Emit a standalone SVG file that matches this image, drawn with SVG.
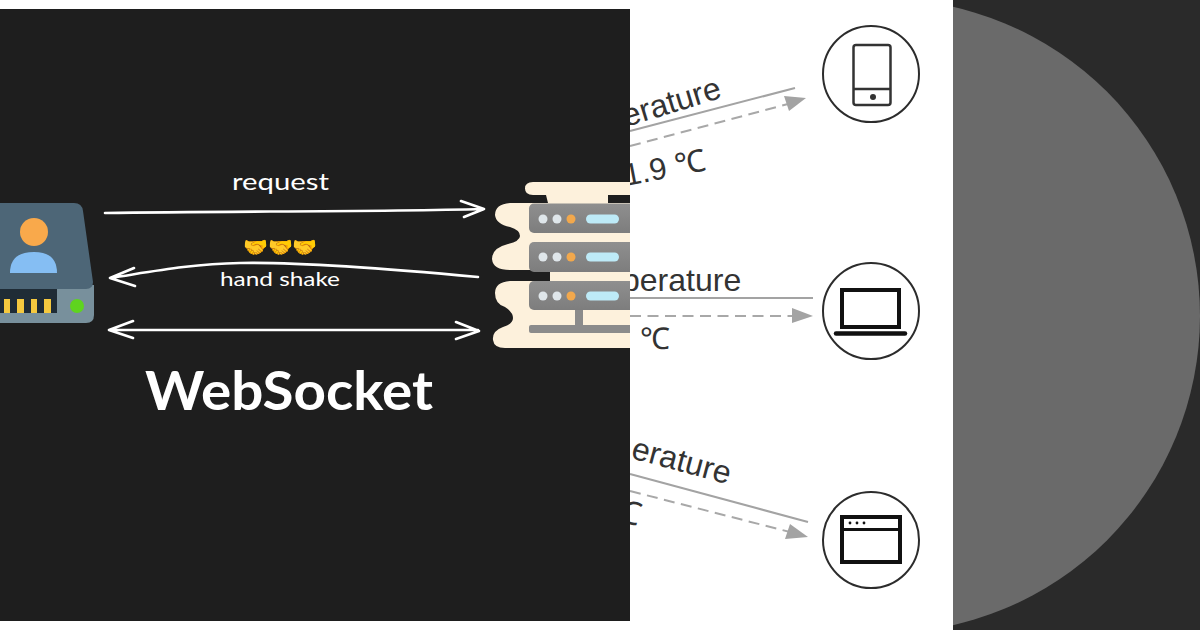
<svg xmlns="http://www.w3.org/2000/svg" width="1200" height="630" viewBox="0 0 1200 630">
<defs>
<style>
.hand{fill:none;stroke:#fff;stroke-width:2.6;stroke-linecap:round;stroke-linejoin:round}
.solid{fill:none;stroke:#a3a3a3;stroke-width:2}
.dash{fill:none;stroke:#a8a8a8;stroke-width:2;stroke-dasharray:11 6.5}
.ring{fill:#fff;stroke:#2c2c2c;stroke-width:2}
.lbl{font-family:"Liberation Sans",Arial,sans-serif;font-size:32px;fill:#333}
.hw{font-family:"Lato","Noto Sans",sans-serif;fill:#fff}
.tip{fill:#a3a3a3}
.dot1{fill:#dfe6ea}
.dot2{fill:#f2a84c}
.bar{fill:#bdeaf7}
.unit{fill:#8b8b8b}
</style>
<linearGradient id="srv" x1="0" y1="0" x2="0" y2="1"><stop offset="0" stop-color="#8f8f8f"/><stop offset="1" stop-color="#7d7d7d"/></linearGradient>
<clipPath id="rightclip"><rect x="953" width="247" height="630"/></clipPath>
<clipPath id="leftclip"><rect width="630" height="630"/></clipPath>
</defs>
<rect id="page" width="1200" height="630" fill="#fff"/>
<rect id="right-panel" x="953" width="247" height="630" fill="#2a2a2a"/>
<circle id="big-circle" cx="883" cy="316" r="317" fill="#6a6a6a" clip-path="url(#rightclip)"/>

<g id="labels-right">
<text class="lbl" transform="translate(626 127) rotate(-17)">erature</text>
<text class="lbl" transform="translate(626 186) rotate(-11)" style="font-size:31px">1.9 ℃</text>
<text class="lbl" x="622" y="291">perature</text>
<text class="lbl" x="640" y="349" style="font-size:30px">℃</text>
<text class="lbl" transform="translate(630 458) rotate(15)">erature</text>
<text class="lbl" transform="translate(607 518) rotate(15)">℃</text>
</g>
<g id="connectors-right">
<path class="solid" d="M630 131 L795 88"/>
<path class="dash" d="M630 146 L788 104"/>
<path class="tip" d="M806 98 L784 96 L789 111Z"/>
<path class="solid" d="M630 298 L813 298"/>
<path class="dash" d="M630 316 L794 316"/>
<path class="tip" d="M813 316 L792 308 L792 323Z"/>
<path class="solid" d="M630 474 L808 522"/>
<path class="dash" d="M630 491 L790 532"/>
<path class="tip" d="M808 537 L790 524 L785 539Z"/>
</g>
<g id="phone">
<circle class="ring" cx="871" cy="74" r="48"/>
<rect x="853.500" y="45" width="37" height="60" rx="2.500" fill="none" stroke="#333" stroke-width="2.500"/>
<path d="M853.500 89 H890.500" stroke="#333" stroke-width="2.500"/>
<circle cx="873" cy="97" r="3" fill="#333"/>
</g>
<g id="laptop">
<circle class="ring" cx="871" cy="311" r="48"/>
<rect x="842" y="290" width="57" height="37" fill="none" stroke="#111" stroke-width="4"/>
<path d="M836 333.500 H905" stroke="#111" stroke-width="4.500" stroke-linecap="round"/>
</g>
<g id="browser">
<circle class="ring" cx="871" cy="540" r="48"/>
<rect x="842" y="517" width="58" height="45" fill="none" stroke="#111" stroke-width="4"/>
<path d="M842 529.500 H900" stroke="#111" stroke-width="3"/>
<circle cx="850" cy="523" r="1.400" fill="#111"/><circle cx="857" cy="523" r="1.400" fill="#111"/><circle cx="864" cy="523" r="1.400" fill="#111"/>
</g>

<rect id="left-panel" y="9" width="630" height="612" fill="#1e1e1e"/>
<g id="client">
<path d="M0 289 V323 H86 Q94 323 94 315 V285 L0 285Z" fill="#78909c"/>
<path d="M0 203 H74 Q82 203 83 211 L93 282 Q93 289 86 289 H0Z" fill="#4d6677"/>
<rect x="0" y="289" width="57" height="24" fill="#1f2c36"/>
<circle cx="34" cy="232" r="14" fill="#f9a94b"/>
<path d="M10 273 Q10 252 34 252 Q57 252 57 273Z" fill="#85bef3"/>
<g fill="#f5c93f"><rect x="4" y="299" width="6" height="14"/><rect x="17" y="299" width="7" height="14"/><rect x="31" y="299" width="6" height="14"/><rect x="44" y="299" width="7" height="14"/></g>
<circle cx="77" cy="306" r="7" fill="#5fd41f"/>
</g>
<g id="server" clip-path="url(#leftclip)">
<path d="M630 182 H533 Q525 182 525 188.500 Q525 195 533 195 H546 L548 203 H510 Q495 204 495 215 Q496 224 510 227 Q520 230 520 236 Q520 241 508 244 Q492 248 492 259 Q493 270 510 270 H550 V281 H510 Q495 282 495 293 Q495 304 505 307 Q513 312 513 318 Q513 324 503 327 Q492 331 493 340 Q494 348 505 348 H630 V203 H608 V195 H630Z" fill="#fdf1dc"/>
<rect x="529" y="203.500" width="105" height="29.500" rx="5" fill="url(#srv)"/>
<rect x="529" y="242" width="105" height="30" rx="5" fill="url(#srv)"/>
<rect x="529" y="281" width="105" height="29" rx="5" fill="url(#srv)"/>
<g><circle class="dot1" cx="543" cy="219" r="4.500"/><circle class="dot1" cx="557" cy="219" r="4.500"/><circle class="dot2" cx="571" cy="219" r="4.500"/><rect class="bar" x="586" y="214.500" width="33" height="9" rx="4.500"/></g>
<g><circle class="dot1" cx="543" cy="257" r="4.500"/><circle class="dot1" cx="557" cy="257" r="4.500"/><circle class="dot2" cx="571" cy="257" r="4.500"/><rect class="bar" x="586" y="252.500" width="33" height="9" rx="4.500"/></g>
<g><circle class="dot1" cx="543" cy="296" r="4.500"/><circle class="dot1" cx="557" cy="296" r="4.500"/><circle class="dot2" cx="571" cy="296" r="4.500"/><rect class="bar" x="586" y="291.500" width="33" height="9" rx="4.500"/></g>
<rect class="unit" x="575" y="310" width="8" height="16"/>
<rect class="unit" x="529" y="325" width="105" height="8" rx="2"/>
</g>
<g id="connectors-left">
<path class="hand" d="M105 213 C230 211 370 212 484 209 M461 201 L484 209 L464 217"/>
<path class="hand" d="M478 277 C380 268 290 262 240 263 C190 264 150 272 110 278 M134 268 L110 278 L135 286"/>
<path class="hand" d="M110 330 H478 M133 321 L109 330 L133 338 M456 322 L479 331 L456 339"/>
</g>
<g id="labels-left">
<text class="hw" x="232" y="190" font-size="24" textLength="97" lengthAdjust="spacingAndGlyphs">request</text>
<text x="243" y="254" font-size="20" font-family="'Noto Color Emoji','Noto Sans',sans-serif">🤝🤝🤝</text>
<text class="hw" x="220" y="286" font-size="20" textLength="120" lengthAdjust="spacingAndGlyphs">hand shake</text>
<text class="hw" x="145" y="410" font-size="54" font-weight="700" textLength="288" lengthAdjust="spacingAndGlyphs">WebSocket</text>
</g>
</svg>
